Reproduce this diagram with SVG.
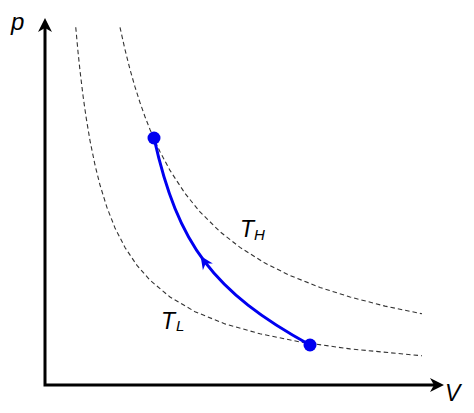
<svg xmlns="http://www.w3.org/2000/svg" width="474" height="413" viewBox="0 0 474 413">
  <style>
    .axis { stroke: #000; stroke-width: 3; fill: none; }
    .iso { stroke: #333; stroke-width: 1.1; fill: none; stroke-dasharray: 4.5 3; }
    .proc { stroke: #0000f0; stroke-width: 3; fill: none; }
    .dot { fill: #0000f0; }
    .lbl { font-family: "Liberation Sans", Arial, sans-serif; font-style: italic; fill: #000; }
  </style>
  <defs>
    <path id="axhead" d="M0,0 L-14,-7 L-10,0 L-14,7 Z"/>
    <path id="prhead" d="M0,0 L-13,-6 L-9,0 L-13,6 Z"/>
  </defs>
  <rect width="474" height="413" fill="#fff"/>

  <g id="axes">
    <path class="axis" d="M45,386.5 L45,22 M43.5,385 L439,385"/>
    <use href="#axhead" transform="translate(45,18) rotate(-90)" fill="#000"/>
    <use href="#axhead" transform="translate(444,385)" fill="#000"/>
    <text class="lbl" x="11" y="30" font-size="24">p</text>
    <text class="lbl" x="445" y="401" font-size="23">V</text>
  </g>

  <g id="isotherm-TH">
    <polyline class="iso" points="120,27.3 125,49.6 130,69.4 135,86.9 140,102.6 145,116.7 150,129.5 155,141.1 160,151.7 170,170.4 185,193.4 200,211.9 220,231.7 240,247.4 265,263.1 290,275.5 320,287.4 350,297 385,306.1 422,313.8"/>
    <text class="lbl" x="240" y="237" font-size="23">T</text>
    <text class="lbl" x="254" y="240" font-size="15">H</text>
  </g>

  <g id="isotherm-TL">
    <polyline class="iso" points="75.75,27.3 78,51.7 80,70.7 83,95.5 86,116.7 90,140.6 95,165 100,185 107,207.6 115,227.9 125,247.5 137,265.4 150,280.2 170,297 195,311.7 225,323.9 260,333.8 300,341.9 350,348.9 422,355.8"/>
    <text class="lbl" x="161" y="329" font-size="23">T</text>
    <text class="lbl" x="176" y="331" font-size="15">L</text>
  </g>

  <g id="connectors">
    <path class="proc" d="M154,138 C177.9,245.4 213.6,292 310,345"/>
    <use href="#prhead" transform="translate(200.6,256.1) rotate(236)" fill="#0000f0"/>
  </g>

  <g id="state-top">
    <circle class="dot" cx="154" cy="138" r="6.5"/>
  </g>
  <g id="state-bottom">
    <circle class="dot" cx="310" cy="345" r="6.5"/>
  </g>
</svg>
